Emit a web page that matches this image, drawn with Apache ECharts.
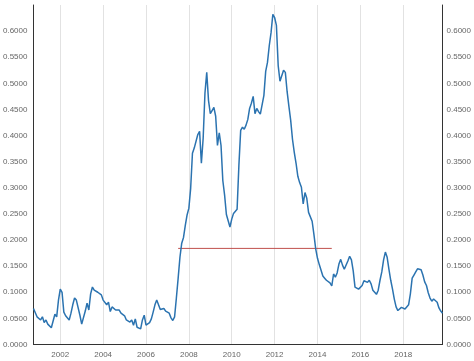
<!DOCTYPE html>
<html>
<head>
<meta charset="utf-8">
<script src="https://cdn.jsdelivr.net/npm/echarts@6/dist/echarts.min.js"></script>
<style>html,body{margin:0;padding:0;background:#fff}#c{width:474px;height:361px}</style>
</head>
<body>
<div id="c"></div>
<script>
// Monthly observations, first month 2000-10
const START_YEAR = 2000, START_MONTH = 10;
const values = [
0.069,0.066,0.053,0.053,0.047,0.053,0.042,0.047,0.039,0.039,
0.032,0.033,0.058,0.053,0.085,0.106,0.100,0.062,0.055,0.056,
0.047,0.060,0.076,0.089,0.085,0.085,0.056,0.039,0.041,0.064,
0.079,0.066,0.097,0.110,0.104,0.106,0.100,0.100,0.095,0.085,
0.087,0.076,0.081,0.063,0.072,0.070,0.066,0.064,0.066,0.060,
0.058,0.055,0.047,0.047,0.043,0.047,0.037,0.049,0.033,0.031,
0.030,0.047,0.056,0.037,0.036,0.042,0.049,0.062,0.076,0.085,
0.076,0.067,0.070,0.069,0.064,0.064,0.060,0.051,0.046,0.053,
0.089,0.127,0.167,0.194,0.205,0.228,0.248,0.261,0.299,0.366,
0.376,0.379,0.402,0.408,0.347,0.395,0.481,0.521,0.467,0.442,
0.448,0.454,0.437,0.381,0.405,0.381,0.314,0.286,0.249,0.249,
0.225,0.240,0.251,0.249,0.259,0.343,0.410,0.416,0.412,0.420,
0.431,0.452,0.462,0.475,0.442,0.452,0.446,0.441,0.444,0.477,
0.523,0.540,0.572,0.597,0.632,0.626,0.611,0.534,0.504,0.507,
0.525,0.521,0.484,0.456,0.429,0.393,0.368,0.347,0.322,0.310,
0.301,0.269,0.291,0.280,0.253,0.253,0.236,0.211,0.183,0.165,
0.153,0.142,0.131,0.127,0.123,0.125,0.118,0.112,0.135,0.129,
0.137,0.154,0.163,0.152,0.144,0.146,0.160,0.169,0.162,0.141,
0.110,0.107,0.106,0.108,0.113,0.122,0.123,0.119,0.123,0.116,
0.104,0.100,0.096,0.104,0.123,0.139,0.162,0.177,0.167,0.144,
0.123,0.106,0.087,0.072,0.065,0.066,0.071,0.074,0.068,0.070,
0.076,0.097,0.127,0.133,0.139,0.145,0.148,0.143,0.133,0.120,
0.113,0.099,0.089,0.083,0.087,0.085,0.081,0.070,0.064,0.060
];
const refLevel = 0.184;
const refStart = '2007-07', refEnd = '2014-09';
const yTickLabels = { min: 0, max: 0.65, step: 0.05, decimals: 4 };

const categories = [];
for (let i = 0; i < values.length; i++) {
  const m = START_MONTH - 1 + i;
  const y = START_YEAR + Math.floor(m / 12);
  const mm = (m % 12) + 1;
  categories.push(y + '-' + (mm < 10 ? '0' + mm : mm));
}
const isTick = (idx, val) => val.endsWith('-01') && (+val.slice(0, 4)) % 2 === 0;

const labelStyle = { color: '#666', fontSize: 8, fontFamily: 'Liberation Sans, Arial, sans-serif' };
const yAxisBase = {
  type: 'value', min: yTickLabels.min, max: yTickLabels.max, interval: yTickLabels.step,
  axisLine: { show: true, lineStyle: { color: '#333', width: 1 } },
  axisTick: { show: false },
  splitLine: { show: false },
  axisLabel: Object.assign({ showMaxLabel: false, formatter: v => v.toFixed(yTickLabels.decimals) }, labelStyle)
};

const chart = echarts.init(document.getElementById('c'), null, { renderer: 'canvas' });
chart.setOption({
  animation: false,
  backgroundColor: '#fff',
  grid: { left: 33, right: 30, top: 5, bottom: 16.5, containLabel: false },
  xAxis: {
    type: 'category', data: categories, boundaryGap: false,
    axisLine: { lineStyle: { color: '#333', width: 1 } },
    axisTick: { show: false },
    axisLabel: Object.assign({ interval: isTick, formatter: v => v.slice(0, 4), margin: 6 }, labelStyle),
    splitLine: { show: true, interval: isTick, lineStyle: { color: '#e2e2e2', width: 1 } }
  },
  yAxis: [
    Object.assign({}, yAxisBase, { position: 'left', axisLabel: Object.assign({}, yAxisBase.axisLabel, { margin: 6 }) }),
    Object.assign({}, yAxisBase, { position: 'right', axisLabel: Object.assign({}, yAxisBase.axisLabel, { margin: 4 }) })
  ],
  series: [
    {
      type: 'line', data: values, yAxisIndex: 0, symbol: 'none', smooth: false,
      lineStyle: { color: '#2b73b0', width: 1.5 }, z: 3
    },
    {
      type: 'line', data: [[refStart, refLevel], [refEnd, refLevel]], yAxisIndex: 0, symbol: 'none',
      lineStyle: { color: '#c0504d', width: 1 }, z: 2
    }
  ]
});
</script>
</body>
</html>
